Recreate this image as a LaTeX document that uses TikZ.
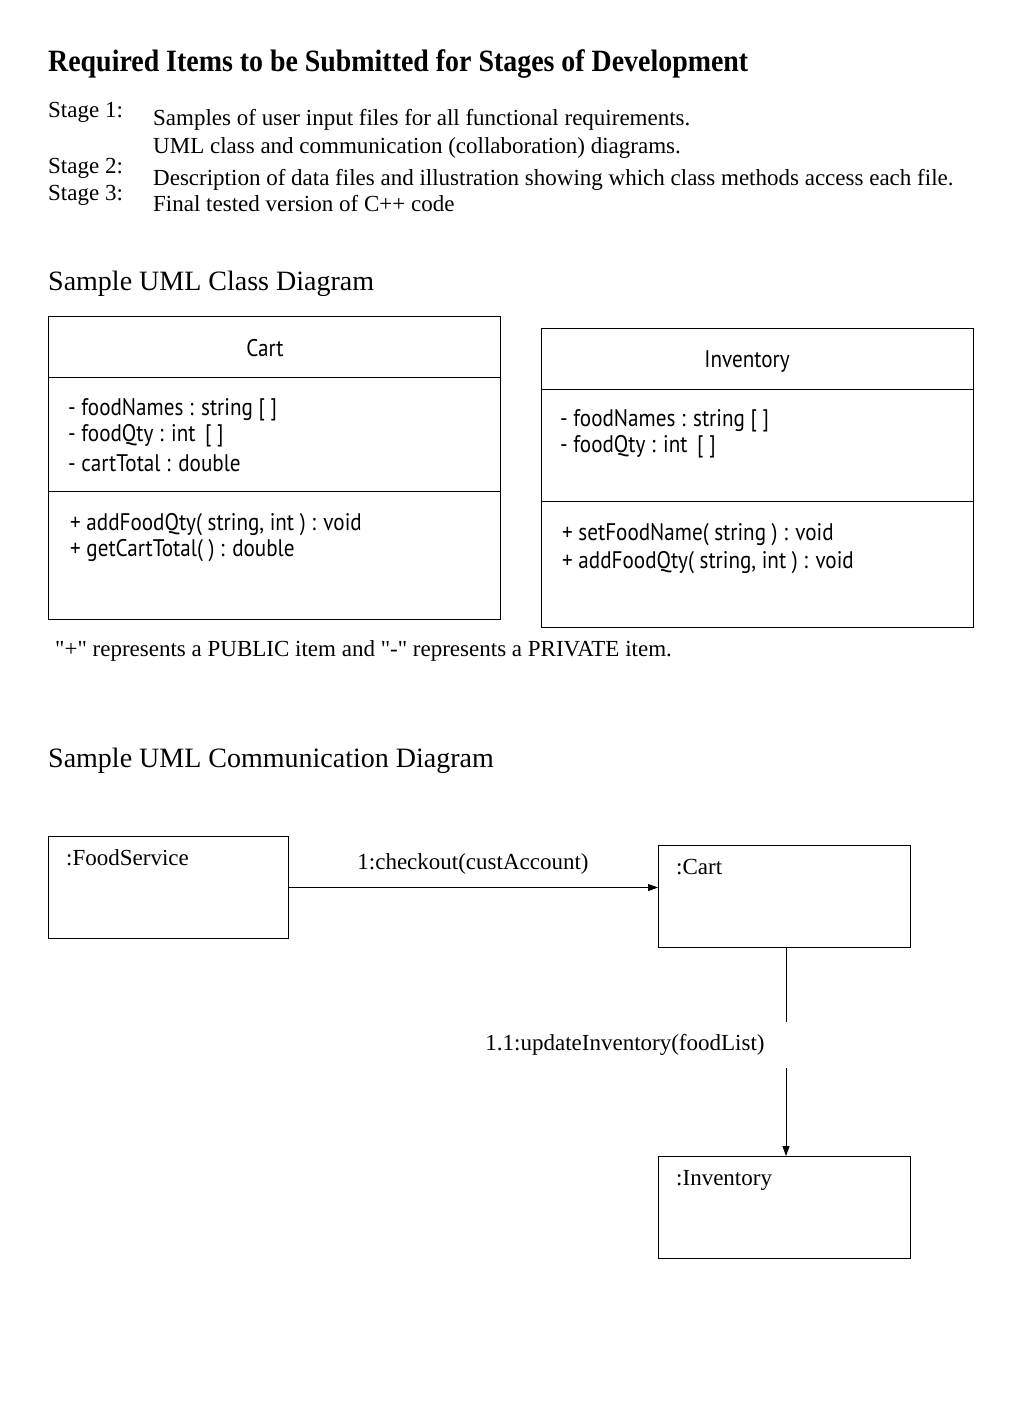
\documentclass[tikz,border=0pt]{standalone}
\usepackage{fontspec}
\setmainfont{Liberation Serif}
\newfontfamily\qfont{Liberation Serif}
\newfontfamily\titlefont[FakeStretch=0.9]{Liberation Serif}
\newfontfamily\umlfont[FakeStretch=0.88]{PT Sans}
\newcommand{\dq}{{\qfont"}}
\usetikzlibrary{arrows.meta}
\begin{document}
\begin{tikzpicture}[x=1pt,y=-1pt,
  txt/.style={inner sep=0pt,anchor=west,font=\fontsize{23}{27}\selectfont},
  head/.style={inner sep=0pt,anchor=west,font=\fontsize{28}{32}\selectfont},
  uml/.style={inner sep=0pt,anchor=west,font=\umlfont\fontsize{24}{28}\selectfont},
  umltitle/.style={inner sep=0pt,font=\umlfont\fontsize{24}{28}\selectfont},
  box/.style={draw,line width=1pt},
  obj/.style={draw,line width=1pt,minimum width=#1,minimum height=102pt,inner sep=0pt},
  objtxt/.style={inner sep=0pt,anchor=west,font=\fontsize{23}{27}\selectfont},
  msg/.style={line width=0.9pt},
  arr/.style={line width=0.9pt,-{Triangle[length=10pt,width=7pt]}}]
\useasboundingbox (0,0) rectangle (1026,1412);
% Header
\node[inner sep=0pt,anchor=west,font=\titlefont\bfseries\fontsize{31}{35}\selectfont] (title) at (48,64) {Required Items to be Submitted for Stages of Development};
\node[txt] (s1) at (48,112) {Stage 1:};
\node[txt] (s1a) at (153,120) {Samples of user input files for all functional requirements.};
\node[txt] (s1b) at (153,148) {UML class and communication (collaboration) diagrams.};
\node[txt] (s2) at (48,168) {Stage 2:};
\node[txt] (s2a) at (153,180) {Description of data files and illustration showing which class methods access each file.};
\node[txt] (s3) at (48,195) {Stage 3:};
\node[txt] (s3a) at (153,204) {Final tested version of C++ code};
% Class diagram
\node[head] (h1) at (48,284) {Sample UML Class Diagram};
\draw[box] (48,316) rectangle (500,619);
\draw[box] (48,377) -- (500,377);
\draw[box] (48,491) -- (500,491);
\node[umltitle] (cartT) at (265,348) {Cart};
\node[uml] (ca1) at (68,410) {- foodNames : string [ ]};
\node[uml] (ca2) at (68,436) {- foodQty : int\, [ ]};
\node[uml] (ca3) at (68,463) {- cartTotal : double};
\node[uml] (cm1) at (70,525) {+ addFoodQty( string, int ) : void};
\node[uml] (cm2) at (70,551) {+ getCartTotal( ) : double};
\draw[box] (541,328) rectangle (973,627);
\draw[box] (541,389) -- (973,389);
\draw[box] (541,501) -- (973,501);
\node[umltitle] (invT) at (747,362) {Inventory};
\node[uml] (ia1) at (560,421) {- foodNames : string [ ]};
\node[uml] (ia2) at (560,447) {- foodQty : int\, [ ]};
\node[uml] (im1) at (562,535) {+ setFoodName( string ) : void};
\node[uml] (im2) at (562,563) {+ addFoodQty( string, int ) : void};
\node[txt] (note) at (55,651) {\dq+\dq{} represents a PUBLIC item and \dq-\dq{} represents a PRIVATE item.};
% Communication diagram
\node[head] (h2) at (48,761) {Sample UML Communication Diagram};
\node[obj=240pt,anchor=north west] (fs) at (48,836) {};
\node[objtxt] (fsT) at (66,858) {:FoodService};
\node[obj=252pt,anchor=north west] (cart) at (658,845) {};
\node[objtxt] (cartN) at (676,867) {:Cart};
\node[obj=252pt,anchor=north west] (inv) at (658,1156) {};
\node[objtxt] (invN) at (676,1180) {:Inventory};
\draw[arr] (fs.east) -- (cart.west |- fs.east);
\node[inner sep=0pt,font=\fontsize{23}{27}\selectfont] (m1) at (473,864) {1:checkout(custAccount)};
\coordinate (g1) at (786,1022);
\coordinate (g2) at (786,1068);
\draw[msg] (cart.south -| g1) -- (g1);
\draw[arr] (g2) -- (inv.north -| g2);
\node[inner sep=0pt,font=\fontsize{23}{27}\selectfont] (m2) at (625,1045) {1.1:updateInventory(foodList)};
\end{tikzpicture}
\end{document}
